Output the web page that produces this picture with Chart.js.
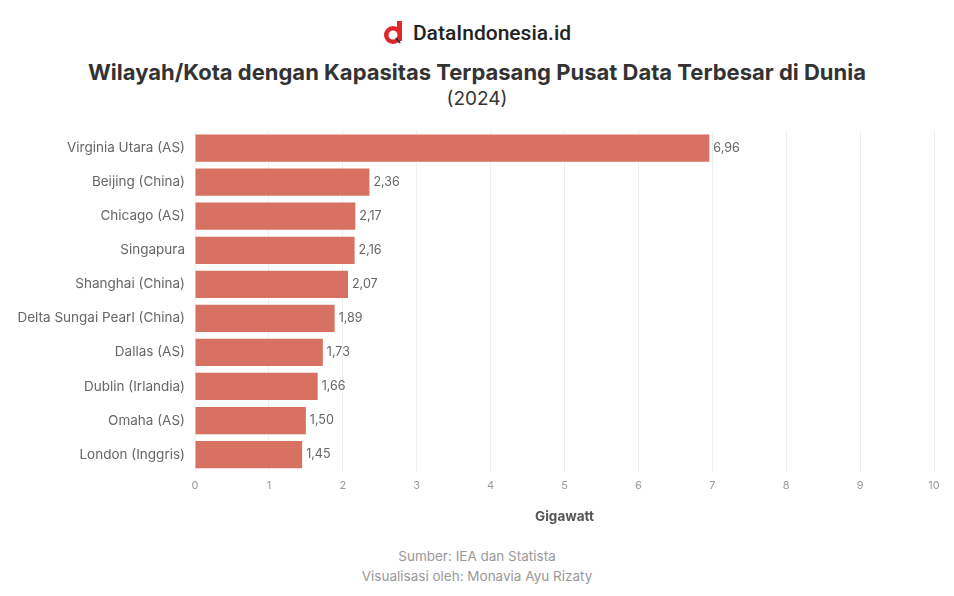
<!DOCTYPE html>
<html>
<head>
<meta charset="utf-8">
<script src="https://cdn.jsdelivr.net/npm/chart.js@4"></script>
<style>
  body { margin: 0; background: #fff; font-family: Inter, sans-serif; }
  #wrap { position: relative; width: 954px; height: 596px; }
  .logo { position: absolute; top: 21px; left: 0; width: 954px; text-align: center; font-family: Roboto, sans-serif; font-size: 21px; font-weight: 500; color: #222; }
  .logo svg { vertical-align: -5px; margin-right: 8px; }
  .title { position: absolute; top: 59px; left: 0; width: 954px; text-align: center; font-size: 22px; font-weight: 700; color: #333; }
  .sub { position: absolute; top: 87px; left: 0; width: 954px; text-align: center; font-size: 19px; color: #333; }
  .foot { position: absolute; left: 0; width: 954px; text-align: center; font-size: 13.5px; color: #999; }
  #box { position: absolute; top: 121px; left: 0; width: 954px; height: 408px; }
</style>
</head>
<body>
<div id="wrap">
  <div class="logo"><svg width="22" height="24" viewBox="0 0 22 24"><rect x="14" y="0" width="5" height="20" fill="#e0262b"/><circle cx="10" cy="14" r="9" fill="#e0262b"/><circle cx="10" cy="14" r="4.5" fill="#fff"/><line x1="13" y1="17" x2="17" y2="22" stroke="#333" stroke-width="2"/></svg>DataIndonesia.id</div>
  <div class="title">Wilayah/Kota dengan Kapasitas Terpasang Pusat Data Terbesar di Dunia</div>
  <div class="sub">(2024)</div>
  <div id="box"><canvas id="grafik"></canvas></div>
  <div class="foot" style="top:548px">Sumber: IEA dan Statista</div>
  <div class="foot" style="top:568px">Visualisasi oleh: Monavia Ayu Rizaty</div>
</div>
<script>
const wilayah = ['Virginia Utara (AS)', 'Beijing (China)', 'Chicago (AS)', 'Singapura', 'Shanghai (China)',
  'Delta Sungai Pearl (China)', 'Dallas (AS)', 'Dublin (Irlandia)', 'Omaha (AS)', 'London (Inggris)'];
const kapasitas = [6.96, 2.36, 2.17, 2.16, 2.07, 1.89, 1.73, 1.66, 1.50, 1.45];
const sumbuX = [0, 1, 2, 3, 4, 5, 6, 7, 8, 9, 10];

// tulis nilai di ujung batang
const labelNilai = {
  id: 'labelNilai',
  afterDatasetsDraw(chart) {
    const ctx = chart.ctx;
    const meta = chart.getDatasetMeta(0);
    ctx.save();
    ctx.font = '12.5px Inter, sans-serif';
    ctx.fillStyle = '#666';
    ctx.textBaseline = 'middle';
    meta.data.forEach(function (bar, i) {
      ctx.fillText(kapasitas[i].toFixed(2).replace('.', ','), bar.x + 4, bar.y);
    });
    ctx.restore();
  }
};

var ctx = document.getElementById('grafik').getContext('2d');
var grafik = new Chart(ctx, {
  type: 'bar',
  data: {
    labels: wilayah,
    datasets: [{
      data: kapasitas,
      backgroundColor: '#d77161',
      barPercentage: 0.8,
      categoryPercentage: 1
    }]
  },
  options: {
    indexAxis: 'y',
    responsive: true,
    maintainAspectRatio: false,
    animation: false,
    layout: { padding: { top: 2, right: 20, left: 0, bottom: 0 } },
    plugins: { legend: { display: false }, tooltip: { enabled: false } },
    scales: {
      x: {
        min: 0, max: 10,
        afterBuildTicks: s => { s.ticks = sumbuX.map(v => ({ value: v })); },
        grid: { color: '#eeeeee', drawTicks: false },
        border: { display: false },
        ticks: { color: '#999', font: { size: 11, family: 'Inter' }, padding: 7 },
        title: { display: true, text: 'Gigawatt', color: '#555', font: { size: 13.5, weight: 'bold', family: 'Inter' }, padding: { top: 10 } }
      },
      y: {
        afterFit: s => { s.width = 195; },
        grid: { display: false },
        border: { display: false },
        ticks: { color: '#666', font: { size: 13.5, family: 'Inter' }, padding: 2 }
      }
    }
  },
  plugins: [labelNilai]
});
</script>
</body>
</html>
